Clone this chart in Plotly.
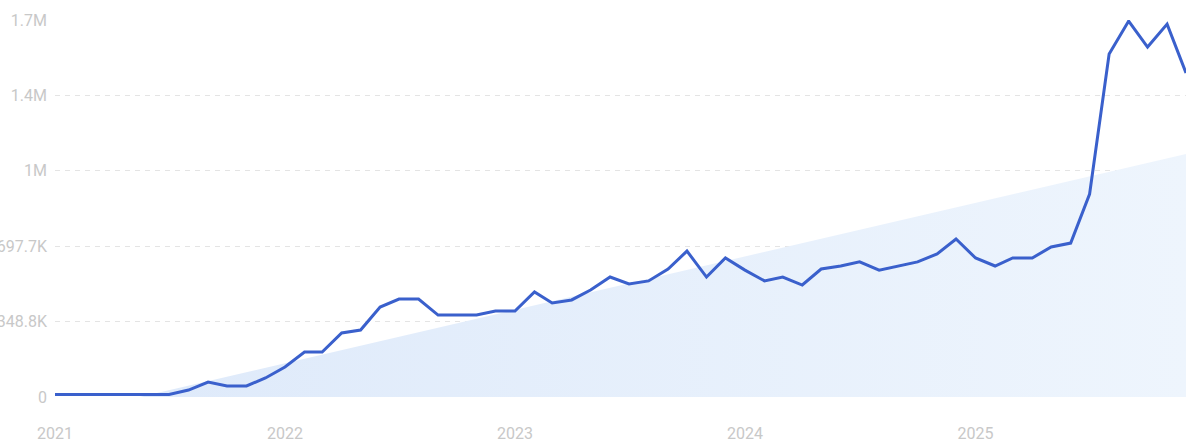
import plotly.graph_objects as go

# Monthly dates Jan 2021 .. Dec 2025
months = [f"{y}-{m:02d}-01" for y in range(2021, 2026) for m in range(1, 13)]

values = [
    12000, 12000, 12000, 12000, 12000, 12000, 12000,          # 2021 Jan-Jul
    32000, 69000, 51000, 51000, 88000,                        # 2021 Aug-Dec
    139000, 208000, 208000, 296000, 310000, 416000,           # 2022 Jan-Jun
    453000, 453000, 379000, 379000, 379000, 398000,           # 2022 Jul-Dec
    398000, 486000, 435000, 449000, 495000, 555000,           # 2023 Jan-Jun
    523000, 537000, 592000, 675000, 555000, 643000,           # 2023 Jul-Dec
    587000, 537000, 555000, 518000, 592000, 606000,           # 2024 Jan-Jun
    625000, 587000, 606000, 625000, 662000, 731000,           # 2024 Jul-Dec
    643000, 606000, 643000, 643000, 694000, 712000,           # 2025 Jan-Jun
    939000, 1587000, 1739000, 1619000, 1725000, 1499000,      # 2025 Jul-Dec
]

trend_x = ["2021-01-01", "2025-12-01"]
trend_y = [-91000, 1124000]

y_tickvals = [0, 348800, 697700, 1046500, 1395300, 1744000]
y_ticktext = ["0", "348.8K", "697.7K", "1M", "1.4M", "1.7M"]
x_tickvals = ["2021-01-01", "2022-01-01", "2023-01-01", "2024-01-01", "2025-01-01"]
x_ticktext = ["2021", "2022", "2023", "2024", "2025"]

fig = go.Figure()
fig.add_trace(go.Scatter(
    x=trend_x, y=trend_y, mode="lines",
    line=dict(width=0, color="rgba(0,0,0,0)"),
    fill="tozeroy",
    fillgradient=dict(type="horizontal",
                      colorscale=[[0, "rgb(221,233,250)"], [1, "rgb(238,245,253)"]]),
    hoverinfo="skip", showlegend=False,
))
fig.add_trace(go.Scatter(
    x=months, y=values, mode="lines",
    line=dict(color="rgb(58,96,204)", width=3),
    showlegend=False,
))

fig.update_layout(
    width=1200, height=443,
    margin=dict(l=55, r=14, t=20, b=46),
    paper_bgcolor="white", plot_bgcolor="white",
    font=dict(family="Roboto", size=16, color="#c8c8c8"),
)
fig.update_xaxes(
    range=["2021-01-01", "2025-12-01"],
    tickvals=x_tickvals, ticktext=x_ticktext,
    showgrid=False, zeroline=False, showline=False,
    ticks="", ticklabelstandoff=25, automargin=False,
)
fig.update_yaxes(
    range=[0, 1744000],
    tickvals=y_tickvals, ticktext=y_ticktext,
    showgrid=True, gridcolor="#e4e4e4", griddash="5px,5px", gridwidth=1,
    zeroline=False, showline=False, ticks="", ticklabelstandoff=7, automargin=False,
)

fig.write_html("out.html",
               config={"displayModeBar": False},
               post_script="document.body.style.margin='0';document.body.style.overflow='hidden';")
